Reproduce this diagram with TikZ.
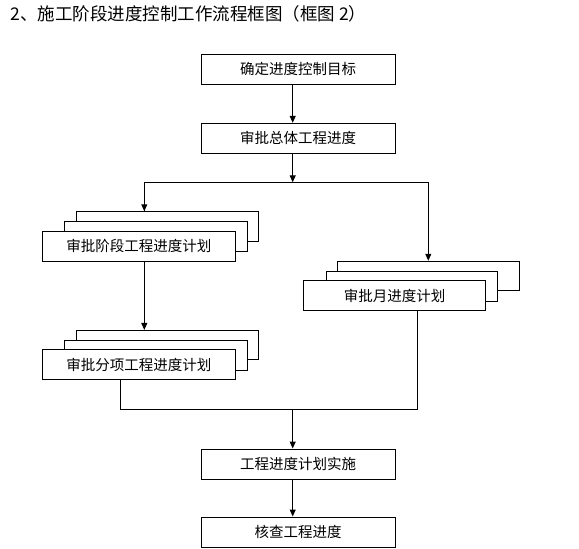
\documentclass[tikz,border=0pt]{standalone}
\usepackage{fontspec}
\setmainfont{Noto Sans CJK SC}
\usepackage{tikz}
\usetikzlibrary{arrows.meta, calc}

\begin{document}
\begin{tikzpicture} [x=1pt, y=-1pt,
        box/.style={draw, line width=1pt, fill=white, minimum height=30pt, inner sep=0pt,
            font=\fontsize{14.5}{17}\selectfont},
        layer/.style={draw, line width=1pt, fill=white, minimum height=29.5pt, inner sep=0pt},
        arr/.style={-{Triangle[length=7pt, width=6pt]}, line width=1pt},
        link/.style={line width=1pt}]
    \useasboundingbox (0,0) rectangle (579,549);

    \node[anchor=west, font=\fontsize{17.5}{20}\selectfont] (title) at (7,14)
        {2、施工阶段进度控制工作流程框图（框图 2）};

    \node[box, minimum width=194pt] (goal) at (298,69) {确定进度控制目标};
    \node[box, minimum width=194pt] (total) at (298,138.3) {审批总体工程进度};

    % stacked plans, back layers first
    \node[layer, minimum width=182.7pt] (phaseback) at (167.4,226.5) {};
    \node[layer, minimum width=182.3pt] (phasemid) at (155.9,236.5) {};
    \node[box, minimum width=193pt] (phase) at (138.8,246) {审批阶段工程进度计划};

    \node[layer, minimum width=182.7pt] (itemback) at (167.4,345.2) {};
    \node[layer, minimum width=182.3pt] (itemmid) at (155.9,355.3) {};
    \node[box, minimum width=193pt] (item) at (138.8,364.8) {审批分项工程进度计划};

    \node[layer, minimum width=182pt] (monthback) at (428.3,276) {};
    \node[layer, minimum width=171.7pt] (monthmid) at (411.9,286.3) {};
    \node[box, minimum width=182.4pt] (month) at (394.5,295.8) {审批月进度计划};

    \node[box, minimum width=194pt] (impl) at (298,464) {工程进度计划实施};
    \node[box, minimum width=194pt] (check) at (298,532) {核查工程进度};

    \coordinate (fork) at (292.7,182.3);
    \coordinate (merge) at (292.7,409.3);

    \draw[arr] (goal.south -| fork) -- (total.north -| fork);
    \draw[arr] (total.south -| fork) -- (fork);
    \draw[link] (fork) -| ([xshift=-23.1pt]phaseback.north);
    \draw[arr] ([xshift=-23.1pt]phaseback.north |- fork) -- ([xshift=-23.1pt]phaseback.north);
    \draw[arr] (fork) -| (monthback.north);
    \draw[arr] ([xshift=5.5pt]phase.south) -- ([xshift=5.5pt]phase.south |- itemback.north);
    \draw[link] ([xshift=-18.1pt]item.south) |- (merge) -| ([xshift=22.8pt]month.south);
    \draw[arr] (merge) -- (impl.north -| merge);
    \draw[arr] (impl.south -| merge) -- (check.north -| merge);
\end{tikzpicture}
\end{document}
